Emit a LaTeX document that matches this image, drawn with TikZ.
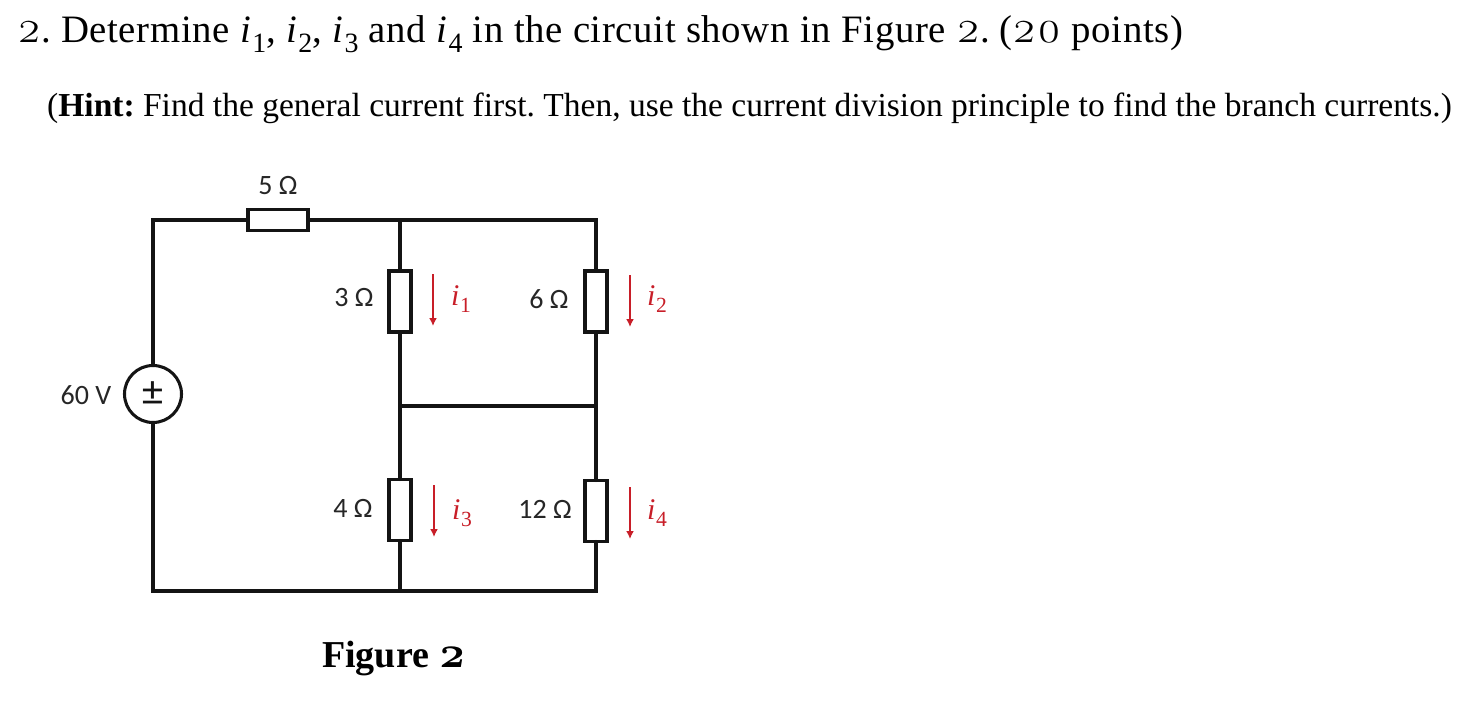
\documentclass[tikz,border=0pt]{standalone}
\usepackage{fontspec}
\usepackage{graphicx}
\setmainfont{Liberation Serif}
\newfontfamily\tightserif[LetterSpace=1.6]{Liberation Serif}
\newfontfamily\osf[Numbers=OldStyle,Scale=1.18,LetterSpace=1.6]{Latin Modern Roman}
\newfontfamily\lab{Carlito}
\newcommand{\od}[1]{{\osf #1}}
\newcommand{\ci}[1]{\textit{i}\kern.02em\raisebox{-.24em}{\scalebox{.72}{#1}}}
\definecolor{curred}{RGB}{200,30,40}
\definecolor{wirek}{RGB}{20,20,20}
\usetikzlibrary{arrows.meta}
\tikzset{
  x=1pt,y=-1pt,
  wire/.style={line width=3.05pt,draw=wirek,line cap=round,line join=miter},
  resv/.style={draw=wirek,line width=3.05pt,fill=white,minimum width=22pt,minimum height=61pt,inner sep=0pt,outer sep=0pt},
  resh/.style={draw=wirek,line width=3.05pt,fill=white,minimum width=60pt,minimum height=21pt,inner sep=0pt,outer sep=0pt},
  src/.style={draw=wirek,line width=3.05pt,fill=white,circle,minimum size=57pt,inner sep=0pt,outer sep=0pt},
  plusminus/.style={inner sep=0pt,text=wirek,font=\lab\fontsize{42}{42}\selectfont},
  val/.style={text=black!85,inner sep=0pt,font=\lab\fontsize{28}{32}\selectfont},
  cur/.style={text=curred,inner sep=0pt,font=\fontsize{30}{34}\selectfont},
  curarrow/.style={draw=curred,line width=1.8pt,-{Latex[length=8pt,width=8pt]}},
  headline/.style={anchor=base west,inner sep=0pt,text=black,font=\frenchspacing\tightserif\fontsize{38.8}{42}\selectfont},
  hintline/.style={anchor=base west,inner sep=0pt,text=black,font=\frenchspacing\fontsize{33.52}{36}\selectfont},
  figline/.style={anchor=base west,inner sep=0pt,text=black,font=\bfseries\fontsize{38}{42}\selectfont},
}
\begin{document}
\begin{tikzpicture}
\useasboundingbox (0,0) rectangle (1478,714);
\fill[white] (0,0) rectangle (1478,714);
% texts
\node[headline] (title) at (17,43) {\od{2}. Determine \ci{1}, \ci{2}, \ci{3} and \ci{4} in the circuit shown in Figure \od{2}. (\od{20} points)};
\node[hintline] (hint) at (47,117) {(\textbf{Hint:} Find the general current first. Then, use the current division principle to find the branch currents.)};
\node[figline] (figcap) at (322,667) {Figure \od{2}};
% junctions
\coordinate (tl) at (153,220);
\coordinate (tm) at (400,220);
\coordinate (tr) at (596,220);
\coordinate (mm) at (400,406);
\coordinate (mr) at (596,406);
\coordinate (bl) at (153,591);
\coordinate (bm) at (400,591);
\coordinate (br) at (596,591);
% elements
\node[resh] (r5) at (278,220) {};
\node[resv] (r3) at (400,301.5) {};
\node[resv] (r6) at (596,301.5) {};
\node[resv] (r4) at (400,510) {};
\node[resv] (r12) at (596,511) {};
\node[src] (v) at (153,394) {};
\node[plusminus] (pm) at (153,393.5) {±};
% wires
\draw[wire] (v.north) -- (tl) -- (r5.west);
\draw[wire] (r5.east) -- (tm) -- (tr) -- (r6.north);
\draw[wire] (tm) -- (r3.north);
\draw[wire] (r3.south) -- (mm) -- (r4.north);
\draw[wire] (r6.south) -- (mr) -- (r12.north);
\draw[wire] (mm) -- (mr);
\draw[wire] (v.south) -- (bl) -- (bm) -- (br) -- (r12.south);
\draw[wire] (bm) -- (r4.south);
% values
\node[val] (l5) at (278,186) {5 Ω};
\node[val] (l3) at (354,298) {3 Ω};
\node[val] (l6) at (549,299) {6 Ω};
\node[val] (l4) at (353,508) {4 Ω};
\node[val] (l12) at (545,509) {12 Ω};
\node[val] (l60) at (86,395) {60 V};
% currents
\coordinate (a1s) at (433,274); \coordinate (a1e) at (433,326);
\coordinate (a2s) at (630,275); \coordinate (a2e) at (630,327);
\coordinate (a3s) at (434,485); \coordinate (a3e) at (434,537);
\coordinate (a4s) at (630,487); \coordinate (a4e) at (630,539);
\draw[curarrow] (a1s) -- (a1e);
\draw[curarrow] (a2s) -- (a2e);
\draw[curarrow] (a3s) -- (a3e);
\draw[curarrow] (a4s) -- (a4e);
\node[cur] (i1) at (461,299) {\ci{1}};
\node[cur] (i2) at (657,299) {\ci{2}};
\node[cur] (i3) at (462,513) {\ci{3}};
\node[cur] (i4) at (657,513) {\ci{4}};
\end{tikzpicture}
\end{document}
